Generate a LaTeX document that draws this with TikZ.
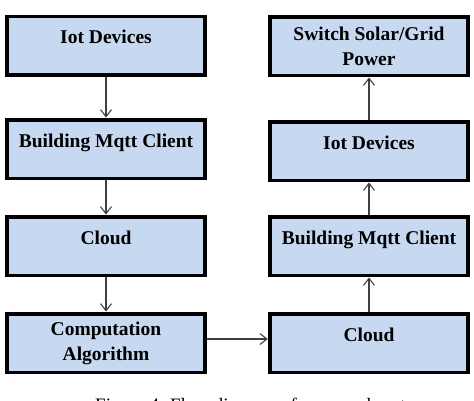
\documentclass[tikz,border=0pt]{standalone}
\usepackage{fontspec}
\setmainfont{Liberation Serif}
\usetikzlibrary{positioning, arrows.meta}
\definecolor{boxblue}{HTML}{C6D9F0}

\begin{document}
\begin{tikzpicture}[
    x=1pt, y=1pt,
    node distance=97pt,
    on grid,
    every node/.style={font=\bfseries\fontsize{19.5}{25}\selectfont},
    stage/.style={draw=black, line width=3.5pt, fill=boxblue, minimum width=198pt, minimum height=58.5pt, align=center},
    oneline/.style={text height=14pt, text depth=18pt},
    every edge/.append style={line width=1.1pt, draw=black!75, >={Straight Barb[length=7pt, width=11pt]}, shorten >=0.5pt}
]
   \useasboundingbox (0,0) rectangle (474,-400);

   % Left column
   \node[stage, oneline] (devL) at (106,-45.5) {Iot Devices};
   \node[stage, oneline] (mqttL) [below=103.5pt of devL] {Building Mqtt Client};
   \node[stage, oneline] (cloudL) [below=of mqttL] {Cloud};
   \node[stage] (comp) [below=of cloudL] {Computation\\Algorithm};

   % Right column
   \node[stage] (switch) at (369,-46) {Switch Solar/Grid\\Power};
   \node[stage, oneline] (devR) [below=105pt of switch] {Iot Devices};
   \node[stage, oneline] (mqttR) [below=95pt of devR] {Building Mqtt Client};
   \node[stage, oneline] (cloudR) [below=of mqttR] {Cloud};

   % Caption (cut off at the bottom)
   \node[font=\fontsize{19}{21}\selectfont, anchor=base] (caption) at (262,-411) {Figure 4. Flow diagram of proposed system};

   % Arrows
   \path[->]
   (devL) edge (mqttL)
   (mqttL) edge (cloudL)
   (cloudL) edge (comp)
   ([yshift=4pt]comp.east) edge ([yshift=4pt]cloudR.west)
   (cloudR) edge (mqttR)
   (mqttR) edge (devR)
   (devR) edge (switch);
\end{tikzpicture}
\end{document}
